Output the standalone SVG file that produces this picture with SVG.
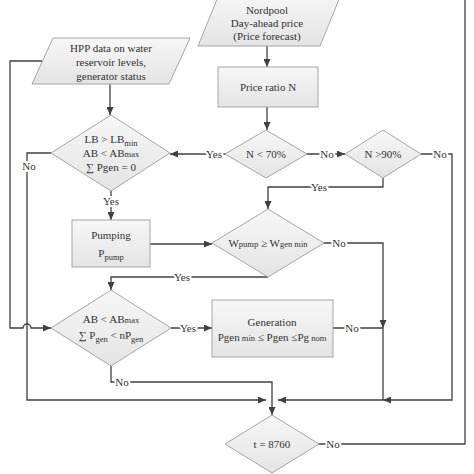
<svg xmlns="http://www.w3.org/2000/svg" width="474" height="474" viewBox="0 0 474 474">
<defs>
<linearGradient id="g" x1="0" y1="0" x2="0" y2="1">
<stop offset="0" stop-color="#f7f7f7"/>
<stop offset="1" stop-color="#e4e4e4"/>
</linearGradient>
<marker id="ah" markerUnits="userSpaceOnUse" markerWidth="8" markerHeight="7" viewBox="0 0 8 7" refX="8" refY="3.5" orient="auto">
<path d="M0,0 L8,3.5 L0,7 z" fill="#404040"/>
</marker>
</defs>
<style>
.s{fill:url(#g);stroke:#a6a6a6;stroke-width:1}
.t{font-family:"Liberation Serif","Times New Roman",serif;font-size:11px;fill:#333;text-anchor:middle}
.sm{font-size:8.5px}
.c{fill:none;stroke:#404040;stroke-width:1.3}
.ca{fill:none;stroke:#404040;stroke-width:1.3;marker-end:url(#ah)}
.l{font-family:"Liberation Serif","Times New Roman",serif;font-size:11px;fill:#333;text-anchor:middle;stroke:#fff;stroke-width:4;paint-order:stroke}
</style>
<rect width="474" height="474" fill="#fff"/>
<g id="connectors">
<path class="ca" d="M267,46 L267,67"/>
<path class="ca" d="M267,107 L267,130"/>
<path class="ca" d="M225,154 L170,154"/>
<path class="ca" d="M307,154 L345,154"/>
<path class="ca" d="M383,178 L383,187 L268,187 L268,209"/>
<path class="ca" d="M421,154 L452,154 L452,400 L383,400"/>
<path class="ca" d="M383,400 L278,400"/>
<path class="ca" d="M110,84 L110,115"/>
<path class="ca" d="M42,61 L10,61 L10,328 L23,328 A4,4 0 0 1 31,328 L51,328"/>
<path class="ca" d="M51,153 L27,153 L27,400 L266,400"/>
<path class="ca" d="M111,191 L111,220"/>
<path class="ca" d="M150,244 L212,244"/>
<path class="ca" d="M324,243 L383,243 L383,328"/>
<path class="c" d="M383,328 L383,400"/>
<path class="c" d="M333,328 L383,328"/>
<path class="ca" d="M268,277 L111,277 L111,290"/>
<path class="ca" d="M171,328 L212,328"/>
<path class="ca" d="M111,366 L111,382 L272,382 L272,415"/>
<path class="c" d="M319,444 L465,444 L465,-5"/>
<text class="l" x="214" y="158">Yes</text>
<text class="l" x="327" y="158">No</text>
<text class="l" x="440" y="158">No</text>
<text class="l" x="319" y="191">Yes</text>
<text class="l" x="29" y="170">No</text>
<text class="l" x="111" y="205">Yes</text>
<text class="l" x="339" y="247">No</text>
<text class="l" x="352" y="332">No</text>
<text class="l" x="182" y="281">Yes</text>
<text class="l" x="188" y="332">Yes</text>
<text class="l" x="122" y="386">No</text>
<text class="l" x="333" y="448">No</text>
</g>
<g id="nordpool">
<polygon class="s" points="220,-8 342,-8 320,46 198,46"/>
<text class="t" x="267" y="14">Nordpool</text>
<text class="t" x="267" y="27">Day-ahead price</text>
<text class="t" x="267" y="40">(Price forecast)</text>
</g>
<g id="price-ratio">
<rect class="s" x="218" y="67" width="100" height="40"/>
<text class="t" x="268" y="91">Price ratio N</text>
</g>
<g id="n70">
<polygon class="s" points="266,130 307,154 266,178 225,154"/>
<text class="t" x="266" y="158">N &lt; 70%</text>
</g>
<g id="n90">
<polygon class="s" points="383,130 421,154 383,178 345,154"/>
<text class="t" x="383" y="158">N &gt;90%</text>
</g>
<g id="hpp">
<polygon class="s" points="53,38 190,38 169,84 32,84"/>
<text class="t" x="111" y="52">HPP data on water</text>
<text class="t" x="111" y="66">reservoir levels,</text>
<text class="t" x="111" y="80">generator status</text>
</g>
<g id="check1">
<polygon class="s" points="111,115 170,153 111,191 51,153"/>
<text class="t" x="111" y="143">LB &gt; LB<tspan class="sm" dy="3">min</tspan></text>
<text class="t" x="111" y="157">AB &lt; AB<tspan class="sm">max</tspan></text>
<text class="t" x="111" y="171">∑ Pgen = 0</text>
</g>
<g id="pumping">
<rect class="s" x="72" y="220" width="78" height="47"/>
<text class="t" x="111" y="239">Pumping</text>
<text class="t" x="111" y="257">P<tspan class="sm" dy="3">pump</tspan></text>
</g>
<g id="wpump">
<polygon class="s" points="268,209 324,243 268,277 212,243"/>
<text class="t" x="268" y="247">W<tspan class="sm">pump</tspan> ≥ W<tspan class="sm">gen min</tspan></text>
</g>
<g id="check2">
<polygon class="s" points="111,290 171,328 111,366 51,328"/>
<text class="t" x="111" y="323">AB &lt; AB<tspan class="sm">max</tspan></text>
<text class="t" x="111" y="339">∑ P<tspan class="sm" dy="3">gen</tspan><tspan dy="-3"> &lt; nP</tspan><tspan class="sm" dy="3">gen</tspan></text>
</g>
<g id="generation">
<rect class="s" x="212" y="300" width="121" height="57"/>
<text class="t" x="272" y="326">Generation</text>
<text class="t" x="272" y="341">Pgen<tspan class="sm"> min</tspan> ≤ Pgen ≤Pg<tspan class="sm"> nom</tspan></text>
</g>
<g id="t8760">
<polygon class="s" points="272,415 319,444 272,473 225,444"/>
<text class="t" x="272" y="448">t = 8760</text>
</g>
</svg>
